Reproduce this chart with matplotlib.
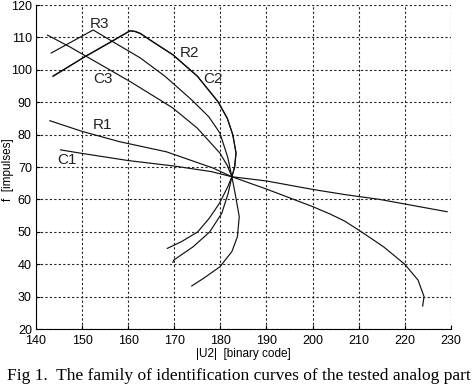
import matplotlib
matplotlib.use('Agg')
import matplotlib.pyplot as plt
import numpy as np

# identification curves: |U2| [binary code] vs f [impulses]
r1_x = [143.0, 150.0, 158.2, 168.3, 178.4, 182.5, 190.0, 200.0, 203.8, 207.0, 210.6, 215.4, 220.0, 222.9, 224.2, 223.9]
r1_y = [84.3, 81.0, 77.8, 74.7, 69.7, 67.0, 63.2, 57.8, 55.5, 53.3, 50.0, 45.4, 40.0, 35.1, 30.0, 27.1]

c1_x = [145.3, 150.0, 160.0, 170.0, 178.0, 182.5, 190.0, 200.0, 207.0, 214.6, 229.2]
c1_y = [75.3, 74.2, 72.0, 70.3, 68.6, 67.0, 65.7, 63.1, 61.5, 60.0, 56.2]

r2_x = [143.7, 150.6, 156.4, 160.4, 161.5, 162.6, 166.0, 169.7, 175.0, 179.5, 181.5, 182.7, 183.4, 183.1, 182.5,
        183.2, 184.1, 183.7, 182.5, 179.9, 176.3, 173.8]
r2_y = [98.0, 104.0, 108.7, 112.0, 111.8, 111.2, 108.0, 104.6, 98.0, 90.1, 85.0, 79.9, 74.3, 70.0, 67.0,
        61.9, 54.7, 48.5, 43.9, 39.2, 35.6, 33.3]

# C2 lies almost on top of R2
c2_x = [143.7, 150.6, 156.4, 160.4, 161.5, 162.6, 166.0, 169.7, 175.0, 179.5, 181.5, 182.7, 183.4, 183.1, 182.5]
c2_y = [98.1, 104.1, 108.8, 112.1, 111.9, 111.3, 108.1, 104.7, 98.1, 90.2, 85.1, 80.0, 74.4, 70.0, 67.0]

r3_x = [143.3, 152.4, 157.0, 162.6, 168.0, 173.8, 177.5, 179.9, 181.6, 182.5,
        181.7, 180.3, 177.7, 174.1, 169.9, 169.7]
r3_y = [105.2, 112.3, 108.4, 103.7, 98.0, 90.7, 85.5, 80.5, 73.0, 67.0,
        61.9, 55.7, 50.0, 45.4, 41.3, 40.6]

c3_x = [142.5, 147.2, 151.1, 156.0, 160.4, 166.9, 169.7, 175.0, 179.9, 181.5, 182.5,
        181.6, 179.8, 177.6, 175.1, 171.6, 168.5]
c3_y = [110.7, 107.2, 104.0, 100.0, 96.4, 90.7, 88.2, 82.0, 74.3, 70.5, 67.0,
        63.9, 58.8, 54.2, 50.0, 47.0, 44.9]

labels = ['R1', 'C1', 'R2', 'C2', 'R3', 'C3']
label_x = [154.5, 146.7, 173.4, 178.4, 153.7, 154.5]
label_y = [83.0, 72.2, 105.2, 97.2, 114.1, 97.2]

xticks = np.arange(140, 231, 10)
yticks = np.arange(20, 121, 10)

plt.rcParams['font.family'] = ['Liberation Sans', 'DejaVu Sans']

fig = plt.figure(figsize=(4.74, 3.88), dpi=100)
ax = fig.add_axes([0.076, 0.152, 0.875, 0.835])

for xs, ys in [(r1_x, r1_y), (c1_x, c1_y), (r2_x, r2_y), (c2_x, c2_y), (r3_x, r3_y), (c3_x, c3_y)]:
    ax.plot(xs, ys, color='#111111', linewidth=0.85)

for t, x, y in zip(labels, label_x, label_y):
    ax.text(x, y, t, fontsize=11, ha='center', va='center', color='#222222')

ax.set_xlim(140, 230)
ax.set_ylim(20, 120)
ax.set_xticks(xticks)
ax.set_yticks(yticks)
ax.grid(True, color='#222222', linestyle=(0, (2, 2)), linewidth=0.8)
ax.tick_params(direction='in', length=3, labelsize=9, pad=3)
ax.tick_params(axis='x', pad=4)
ax.spines['top'].set_visible(False)
ax.spines['right'].set_visible(False)
ax.set_xlabel('|U2|  [binary code]', fontsize=8.5, labelpad=1)

fig.text(8 / 474, 1 - 170 / 388, 'f  [impulses]', fontsize=8.5, rotation=90, ha='center', va='center')
fig.text(0.505, 1 - 376 / 388, 'Fig 1.  The family of identification curves of the tested analog part',
         fontsize=12.5, ha='center', va='center', family=['Liberation Serif', 'DejaVu Serif'])

fig.savefig('out.png', dpi=100)
